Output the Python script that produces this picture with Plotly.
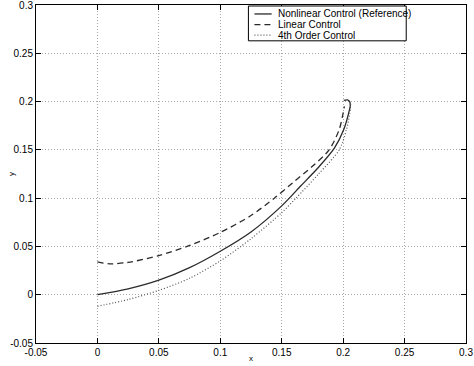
import plotly.graph_objects as go

# Nonlinear control (reference)
nl_x = [0.0, 0.025, 0.05, 0.075, 0.1, 0.125, 0.15, 0.165, 0.18, 0.193, 0.2005, 0.2045, 0.2058, 0.2052, 0.2035, 0.2005]
nl_y = [0.0, 0.006, 0.015, 0.028, 0.045, 0.065, 0.092, 0.112, 0.132, 0.152, 0.171, 0.188, 0.196, 0.2002, 0.2018, 0.2012]

# Linear control
lin_x = [0.0, 0.01, 0.025, 0.05, 0.075, 0.1, 0.125, 0.144, 0.159, 0.175, 0.1886, 0.1968, 0.2, 0.201]
lin_y = [0.034, 0.032, 0.0335, 0.0405, 0.051, 0.0645, 0.082, 0.1, 0.116, 0.133, 0.15, 0.171, 0.188, 0.195]

# 4th order control
o4_x = [0.0, 0.025, 0.05, 0.075, 0.1, 0.125, 0.15, 0.1616, 0.18, 0.1968, 0.2027, 0.2054, 0.2062]
o4_y = [-0.012, -0.005, 0.0045, 0.017, 0.035, 0.058, 0.085, 0.1, 0.125, 0.15, 0.171, 0.188, 0.197]

series_names = ["Nonlinear Control (Reference)", "Linear Control", "4th Order Control"]

tick_vals = [-0.05, 0, 0.05, 0.1, 0.15, 0.2, 0.25, 0.3]
tick_text = ["-0.05", "0", "0.05", "0.1", "0.15", "0.2", "0.25", "0.3"]

font = "Liberation Sans, Arial, sans-serif"
styles = [
    dict(color="#2a2a2a", width=1.3, dash="solid"),
    dict(color="#2a2a2a", width=1.3, dash="6px,4px"),
    dict(color="#555555", width=1.2, dash="1px,2px"),
]

fig = go.Figure()
for (xs, ys), name, st in zip([(nl_x, nl_y), (lin_x, lin_y), (o4_x, o4_y)], series_names, styles):
    fig.add_trace(go.Scatter(x=xs, y=ys, mode="lines", name=name, showlegend=False,
                             line=dict(shape="spline", smoothing=0.8, **st)))

axis_common = dict(
    showline=True, linecolor="black", linewidth=1, mirror="ticks",
    ticks="inside", ticklen=5, tickcolor="black",
    showgrid=True, gridcolor="#a8a8a8", griddash="1px,2px", gridwidth=1,
    zeroline=False, tickfont=dict(family=font, size=10, color="black"),
    tickvals=tick_vals, ticktext=tick_text, automargin=False,
    ticklabeloverflow="allow",
)
fig.update_xaxes(range=[-0.05, 0.30001], **axis_common)
fig.update_yaxes(range=[-0.05, 0.30001], **axis_common)

# axis labels
fig.add_annotation(text="x", xref="paper", yref="paper", x=0.5, y=-0.046, yanchor="middle",
                   showarrow=False, font=dict(family=font, size=8, color="black"))
fig.add_annotation(text="y", xref="paper", yref="paper", x=-0.073, y=0.5, textangle=-90,
                   showarrow=False, font=dict(family=font, size=8, color="black"))

# custom compact legend
lx0, lx1, ly0, ly1 = 0.494, 0.861, 0.894, 0.997
fig.add_shape(type="rect", xref="paper", yref="paper", x0=lx0, x1=lx1, y0=ly0, y1=ly1,
              fillcolor="white", line=dict(color="black", width=1), layer="above")
rows = [0.9735, 0.942, 0.911]
for name, st, ry in zip(series_names, styles, rows):
    fig.add_shape(type="line", xref="paper", yref="paper", x0=0.508, x1=0.548, y0=ry, y1=ry,
                  line=dict(color=st["color"], width=st["width"], dash=st["dash"]), layer="above")
    fig.add_annotation(text=name, xref="paper", yref="paper", x=0.557, y=ry, xanchor="left",
                       yanchor="middle", showarrow=False,
                       font=dict(family=font, size=10, color="black"))

fig.update_layout(
    width=474, height=366,
    margin=dict(l=36, r=8, t=5, b=23),
    plot_bgcolor="white", paper_bgcolor="white",
    font=dict(family=font, size=10, color="black"),
    showlegend=False,
)

fig.write_html("out.html", config={"displayModeBar": False},
               post_script="document.body.style.margin='0';document.body.style.padding='0';")
